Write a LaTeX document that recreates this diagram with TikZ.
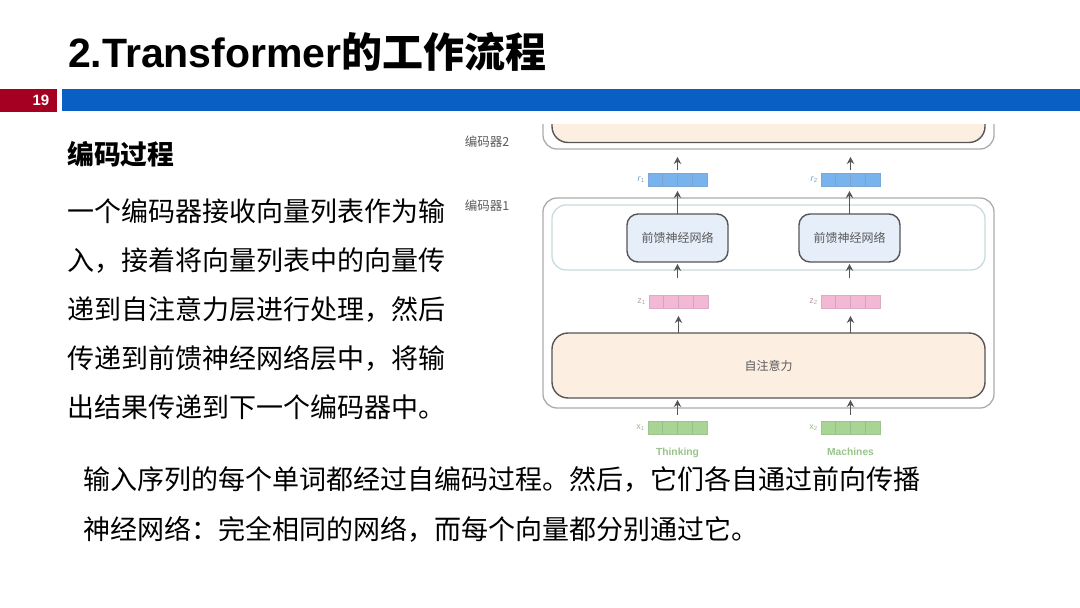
\documentclass[tikz,border=0pt]{standalone}
\usepackage{fontspec}
\setmainfont{Liberation Sans}
\newfontfamily\cjk{Noto Sans CJK SC}
\usepackage{tikz}
\usetikzlibrary{positioning,arrows.meta}
\definecolor{barred}{HTML}{A50021}
\definecolor{barblue}{HTML}{0A5FC4}
\definecolor{peach}{HTML}{FDEEE2}
\definecolor{ffnblue}{HTML}{E6EEF9}
\definecolor{rblue}{HTML}{79B3EE}
\definecolor{zpink}{HTML}{F3B8D3}
\definecolor{xgreen}{HTML}{A8D594}
\definecolor{framegray}{HTML}{A9ADA9}
\definecolor{linegray}{HTML}{555555}
\definecolor{paleblue}{HTML}{C9DADF}
\definecolor{labelgray}{HTML}{5A5A5A}
\definecolor{wordgreen}{HTML}{98C48A}

\begin{document}
\begin{tikzpicture}[x=1pt,y=-1pt,
  encoder/.style={draw=framegray,line width=1.3pt,rounded corners=14pt,inner sep=0pt,outer sep=0pt},
  layerbox/.style={draw=linegray,line width=1.4pt,fill=peach,rounded corners=16pt,minimum width=433pt,minimum height=65pt,inner sep=0pt,outer sep=0pt,font=\cjk\fontsize{12}{14}\selectfont,text=labelgray},
  ffn/.style={draw=linegray,line width=1.4pt,fill=ffnblue,rounded corners=11pt,minimum width=101pt,minimum height=48pt,inner sep=0pt,outer sep=0pt,font=\cjk\fontsize{12}{14}\selectfont,text=labelgray},
  vec/.style={draw=#1!80!gray,fill=#1,line width=.6pt,minimum width=59pt,minimum height=13pt,inner sep=0pt,outer sep=0pt},
  arw/.style={-{Stealth[length=7pt,width=7.5pt]},draw=linegray,line width=1.4pt},
  body/.style={anchor=base west,inner sep=0pt,align=left,font=\cjk\fontsize{27}{49}\selectfont},
  tag/.style={text=labelgray,font=\cjk\fontsize{12.5}{14}\selectfont,inner sep=0pt},
  veclabel/.style={font=\fontsize{9}{10}\selectfont,inner sep=0pt,left=3pt of #1}]
\useasboundingbox (0,0) rectangle (1080,608);

% header
\node[anchor=base west,inner sep=0pt,font=\bfseries\fontsize{41}{46}\selectfont] (title) at (68,67) {2.Transformer{\cjk\bfseries 的工作流程}};
\fill[barred] (0,89) rectangle (57,112);
\node[text=white,inner sep=0pt,font=\bfseries\fontsize{15}{17}\selectfont] (pagenum) at (41,100) {19};
\fill[barblue] (62,89) rectangle (1080,111);

% text
\node[anchor=base west,inner sep=0pt,font=\cjk\bfseries\fontsize{26.8}{30}\selectfont] (head) at (67,164) {编码过程};
\node[body] (para) at (67,417) {一个编码器接收向量列表作为输\\入，接着将向量列表中的向量传\\递到自注意力层进行处理，然后\\传递到前馈神经网络层中，将输\\出结果传递到下一个编码器中。};
\node[body,font=\cjk\fontsize{27}{50}\selectfont] (note) at (83,539) {输入序列的每个单词都经过自编码过程。然后，它们各自通过前向传播\\神经网络：完全相同的网络，而每个向量都分别通过它。};

% encoder 2, cut off at its top
\begin{scope}
\clip (530,124) rectangle (1005,160);
\node[encoder,minimum width=451pt,minimum height=80pt] (enc2) at (768.5,109) {};
\node[layerbox] (self2) at (768.5,110) {};
\end{scope}
\node[tag] (enc2label) at (487,142) {编码器2};

% encoder 1
\node[encoder,minimum width=451pt,minimum height=210pt] (enc1) at (768.5,303) {};
\node[draw=paleblue,line width=1.3pt,rounded corners=14pt,minimum width=433pt,minimum height=65pt,inner sep=0pt,outer sep=0pt] (ffnlayer) at (768.5,237.5) {};
\node[tag] (enc1label) at (487,206) {编码器1};
\node[layerbox] (self1) at (768.5,365.5) {\raisebox{-1.5pt}{自注意力}};
\node[ffn] (ffn1) at (677.5,238) {前馈神经网络};
\node[ffn] (ffn2) at (849.5,238) {前馈神经网络};

% vectors
\foreach \n/\cx/\cy/\c in {%
r1/677.5/179.5/rblue,r2/850.5/179.5/rblue,z1/678.5/301.5/zpink,z2/850.5/301.5/zpink,x1/677.5/427.5/xgreen,x2/850.5/427.5/xgreen} {
   \node[vec=\c] (\n) at (\cx,\cy) {};
   \foreach \i in {-14.75,0,14.75} {
      \draw[\c!70!gray,line width=.6pt] ([xshift=\i pt]\n.north) -- ([xshift=\i pt]\n.south);
   }
}
\node[veclabel=r1,text=rblue!60!gray] (r1label) {\textit{r}\textsubscript{1}};
\node[veclabel=r2,text=rblue!60!gray] (r2label) {\textit{r}\textsubscript{2}};
\node[veclabel=z1,text=zpink!50!gray] (z1label) {z\textsubscript{1}};
\node[veclabel=z2,text=zpink!50!gray] (z2label) {z\textsubscript{2}};
\node[veclabel=x1,text=xgreen!70!gray] (x1label) {x\textsubscript{1}};
\node[veclabel=x2,text=xgreen!70!gray] (x2label) {x\textsubscript{2}};
\node[below=13.5pt of x1,inner sep=0pt,text=wordgreen,font=\bfseries\fontsize{10.3}{12}\selectfont] (word1) {Thinking};
\node[below=13.5pt of x2,inner sep=0pt,text=wordgreen,font=\bfseries\fontsize{10.3}{12}\selectfont] (word2) {Machines};

% arrows
\foreach \a in {1,2} {
   \draw[arw,shorten <=3pt,shorten >=8pt] (r\a.north) -- (r\a.north |- enc2.south);
   \draw[arw,shorten >=5pt] (ffn\a.north) -- (r\a.south -| ffn\a.north);
   \draw[arw,shorten <=17pt,shorten >=2pt] (z\a.north -| ffn\a.south) -- (ffn\a.south);
   \draw[arw,shorten >=8pt] (self1.north -| z\a.north) -- (z\a.north |- z\a.south);
   \draw[arw,shorten <=6pt,shorten >=2pt] (x\a.north) -- (x\a.north |- self1.south);
}
\end{tikzpicture}
\end{document}
